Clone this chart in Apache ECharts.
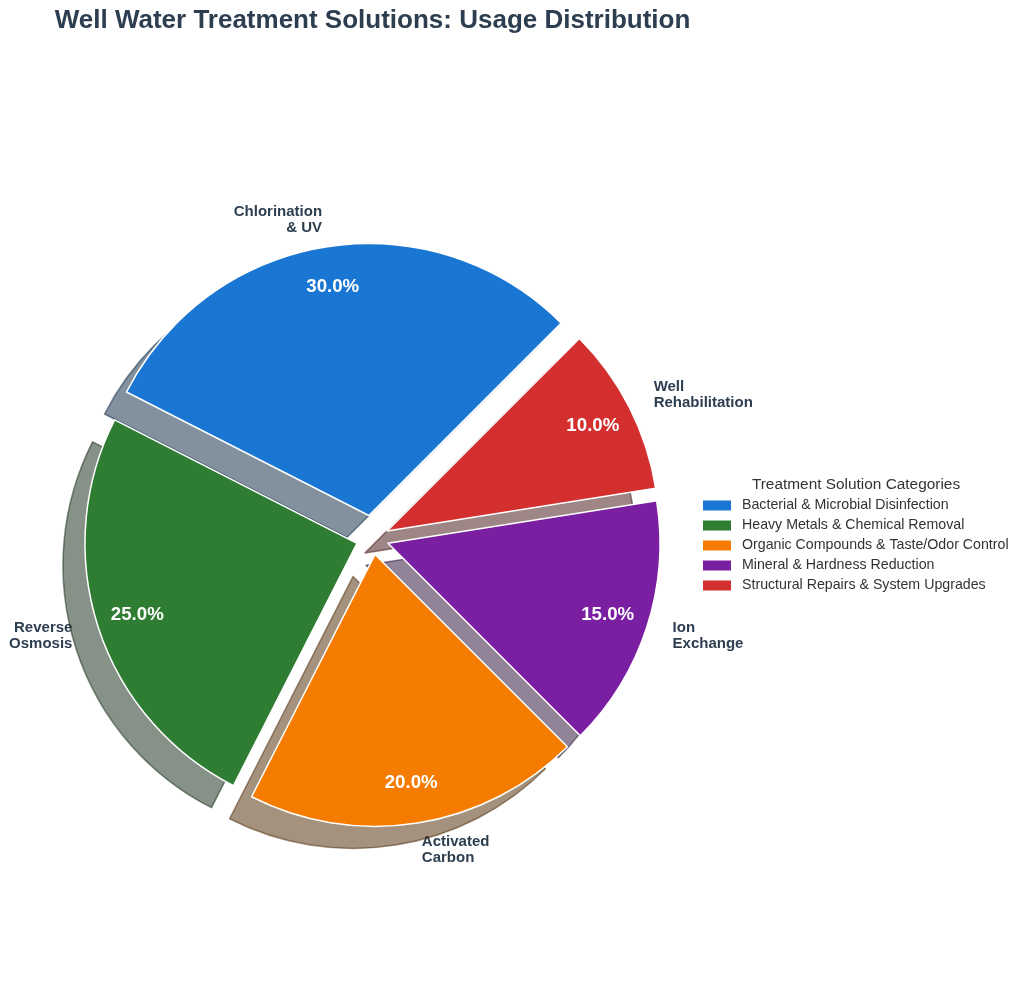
<!DOCTYPE html>
<html>
<head>
<meta charset="utf-8">
<script src="https://cdn.jsdelivr.net/npm/echarts@6/dist/echarts.min.js"></script>
<style>
html,body{margin:0;padding:0;background:#fff;}
#chart{width:1024px;height:1003px;}
</style>
</head>
<body>
<div id="chart"></div>
<script>
// ---- data ----
const categories = [
  'Bacterial & Microbial Disinfection',
  'Heavy Metals & Chemical Removal',
  'Organic Compounds & Taste/Odor Control',
  'Mineral & Hardness Reduction',
  'Structural Repairs & System Upgrades'
];
const sliceLabels = ['Chlorination\n& UV', 'Reverse\nOsmosis', 'Activated\nCarbon', 'Ion\nExchange', 'Well\nRehabilitation'];
const values = [30, 25, 20, 15, 10];
const colors = ['#1976D2', '#2E7D32', '#F57C00', '#7B1FA2', '#D32F2F'];
const explode = [0.085, 0.06, 0.06, 0.06, 0.06];

// ---- layout constants ----
const R = 272;
const CX = 372.5, CY = 538.3;
const START = 45;
const SHADOW_DX = -22, SHADOW_DY = 22;
const total = values.reduce((a, b) => a + b, 0);
const FONT = '"Liberation Sans", Arial, sans-serif';

function shadowColor(hex) {
  const r = parseInt(hex.slice(1, 3), 16), g = parseInt(hex.slice(3, 5), 16), b = parseInt(hex.slice(5, 7), 16);
  return 'rgba(' + Math.round(r * 0.3) + ',' + Math.round(g * 0.3) + ',' + Math.round(b * 0.3) + ',0.5)';
}

const series = [];
let acc = START;
values.forEach((v, k) => {
  const span = v / total * 360;
  const mid = (acc + span / 2) * Math.PI / 180;
  acc += span;
  const ox = explode[k] * R * Math.cos(mid);
  const oy = -explode[k] * R * Math.sin(mid);
  const cx = CX + ox, cy = CY + oy;
  const base = {
    type: 'pie', startAngle: START, clockwise: false, silent: true,
    avoidLabelOverlap: false, animation: false, minAngle: 0,
    emphasis: { disabled: true }, legendHoverLink: false
  };
  const mk = (fn) => values.map((val, i) => Object.assign({ name: categories[i], value: val }, fn(i)));
  const transparent = { color: 'rgba(0,0,0,0)', borderWidth: 0 };
  // outside label layer (below shadows)
  series.push(Object.assign({}, base, {
    z: 1, center: [cx, cy], radius: R,
    label: {
      show: true, position: 'outside', alignTo: 'none', distanceToLabelLine: 0,
      fontFamily: FONT, fontSize: 15, fontWeight: 'bold', color: '#2c3e50', lineHeight: 16.5,
      formatter: (p) => sliceLabels[p.dataIndex]
    },
    labelLine: { show: false, length: 0.1 * R, length2: 0 },
    data: mk(i => ({ itemStyle: transparent, label: { show: i === k } }))
  }));
  // shadow layer
  series.push(Object.assign({}, base, {
    z: 2, center: [cx + SHADOW_DX, cy + SHADOW_DY], radius: R,
    label: { show: false }, labelLine: { show: false },
    data: mk(i => ({ itemStyle: i === k ? { color: shadowColor(colors[i]), borderColor: shadowColor(colors[i]), borderWidth: 1.5 } : transparent }))
  }));
  // wedge layer
  series.push(Object.assign({}, base, {
    z: 3, center: [cx, cy], radius: R,
    label: { show: false }, labelLine: { show: false },
    data: mk(i => ({ itemStyle: i === k ? { color: colors[i], borderColor: '#ffffff', borderWidth: 1.5 } : transparent }))
  }));
  // percentage label layer
  series.push(Object.assign({}, base, {
    z: 4, center: [cx, cy], radius: [184, R],
    label: {
      show: true, position: 'inside', fontFamily: FONT, fontSize: 18.7, fontWeight: 'bold', color: '#ffffff',
      formatter: (p) => (p.value / total * 100).toFixed(1) + '%'
    },
    labelLine: { show: false },
    data: mk(i => ({ itemStyle: transparent, label: { show: i === k } }))
  }));
});

const chart = echarts.init(document.getElementById('chart'), null, { renderer: 'canvas' });
chart.setOption({
  backgroundColor: '#ffffff',
  animation: false,
  title: [
    {
      text: 'Well Water Treatment Solutions: Usage Distribution',
      left: 367.5, top: 3, textAlign: 'center',
      textStyle: { fontFamily: FONT, fontSize: 26, fontWeight: 'bold', color: '#2c3e50' }
    },
    {
      text: 'Treatment Solution Categories',
      left: 851, top: 472, textAlign: 'center',
      textStyle: { fontFamily: FONT, fontSize: 15.4, fontWeight: 'normal', color: '#333333' }
    }
  ],
  legend: {
    orient: 'vertical', left: 698, top: 493,
    itemWidth: 28, itemHeight: 10, itemGap: 5, icon: 'rect',
    selectedMode: false,
    textStyle: { fontFamily: FONT, fontSize: 14.2, color: '#333333', lineHeight: 15, padding: [0, 0, 0, 6] },
    data: categories.map((c, i) => ({ name: c, itemStyle: { color: colors[i] } }))
  },
  series: series
});
</script>
</body>
</html>
